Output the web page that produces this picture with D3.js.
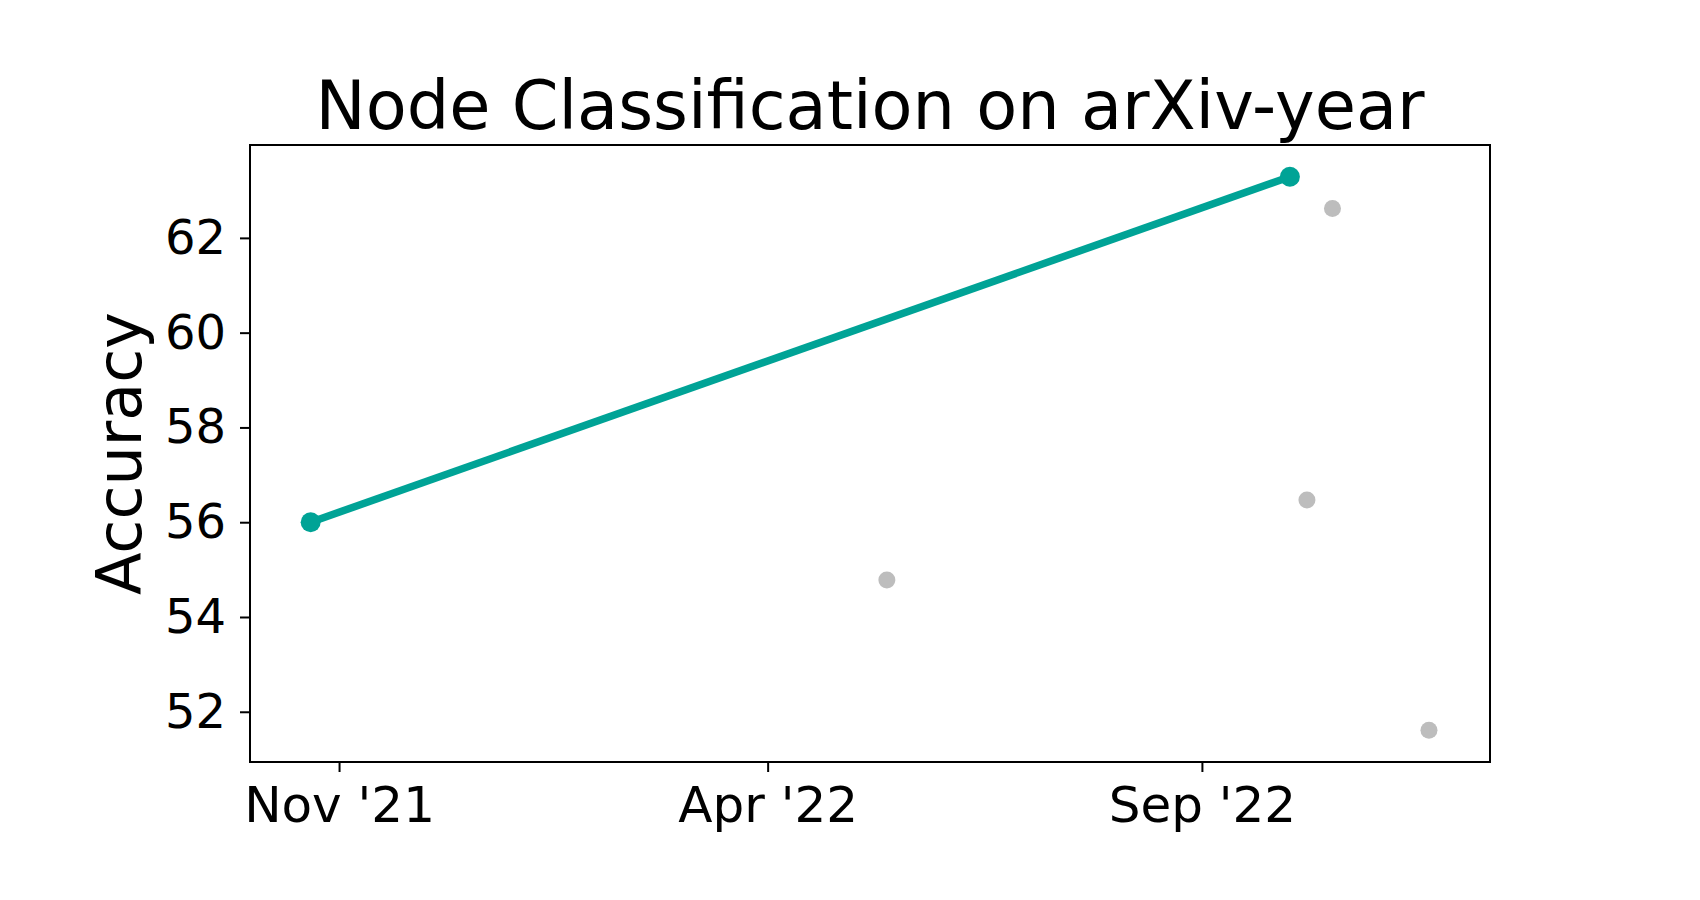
<!DOCTYPE html>
<html>
<head>
<meta charset="utf-8">
<script src="https://cdn.jsdelivr.net/npm/d3@7"></script>
<style>
  html, body { margin: 0; padding: 0; background: #fff; }
  text { font-family: "DejaVu Sans", sans-serif; fill: #000; }
</style>
</head>
<body>
<script>
// ---- data ----
const sotaDates = ["2021-10-22", "2022-10-02"];
const sotaValues = [56.00, 63.29];
const otherDates = ["2022-05-13", "2022-10-08", "2022-10-17", "2022-11-20"];
const otherValues = [54.78, 56.47, 62.62, 51.61];
const xTickDates = ["2021-11-01", "2022-04-01", "2022-09-01"];
const xTickLabels = ["Nov '21", "Apr '22", "Sep '22"];
const yTicks = [52, 54, 56, 58, 60, 62];
const titleText = "Node Classification on arXiv-year";
const yLabelText = "Accuracy";

const W = 1700, H = 900;
const m = { left: 250, right: 1490, top: 145, bottom: 762 };
const parse = d3.utcParse("%Y-%m-%d");

const svg = d3.select("body").append("svg").attr("width", W).attr("height", H);

const x = d3.scaleUtc()
  .domain([d3.isoParse("2021-09-30T15:00:00Z"), d3.isoParse("2022-12-11T12:00:00Z")])
  .range([m.left, m.right]);
const y = d3.scaleLinear()
  .domain([50.94, 63.96])
  .range([m.bottom, m.top]);

// axes
const xAxis = d3.axisBottom(x)
  .tickValues(xTickDates.map(parse))
  .tickFormat((d, i) => xTickLabels[i])
  .tickSize(10).tickPadding(12);
const gx = svg.append("g").attr("transform", `translate(0,${m.bottom})`).call(xAxis);
gx.select(".domain").remove();
gx.selectAll("line").attr("stroke", "#000").attr("stroke-width", 2);
gx.selectAll("text").style("font-size", "50px").attr("fill", "#000").attr("dy", "0.76em");

const yAxis = d3.axisLeft(y).tickValues(yTicks).tickSize(10).tickPadding(14);
const gy = svg.append("g").attr("transform", `translate(${m.left},0)`).call(yAxis);
gy.select(".domain").remove();
gy.selectAll("line").attr("stroke", "#000").attr("stroke-width", 2);
gy.selectAll("text").style("font-size", "48px").attr("fill", "#000");

// other points
svg.append("g").selectAll("circle")
  .data(otherDates.map((d, i) => ({ d: parse(d), v: otherValues[i] })))
  .join("circle")
  .attr("cx", d => x(d.d)).attr("cy", d => y(d.v))
  .attr("r", 8.5).attr("fill", "#bdbdbd");

// SOTA line
const sota = sotaDates.map((d, i) => ({ d: parse(d), v: sotaValues[i] }));
svg.append("path").datum(sota)
  .attr("d", d3.line().x(d => x(d.d)).y(d => y(d.v)))
  .attr("fill", "none").attr("stroke", "#00a396").attr("stroke-width", 7.5);
svg.append("g").selectAll("circle").data(sota).join("circle")
  .attr("cx", d => x(d.d)).attr("cy", d => y(d.v))
  .attr("r", 10).attr("fill", "#00a396");

// frame
svg.append("rect")
  .attr("x", m.left).attr("y", m.top)
  .attr("width", m.right - m.left).attr("height", m.bottom - m.top)
  .attr("fill", "none").attr("stroke", "#000").attr("stroke-width", 2);

// title
svg.append("text")
  .attr("x", (m.left + m.right) / 2).attr("y", 129)
  .attr("text-anchor", "middle")
  .style("font-size", "67px")
  .text(titleText);

// y label
svg.append("text")
  .attr("transform", `translate(141,${(m.top + m.bottom) / 2}) rotate(-90)`)
  .attr("text-anchor", "middle")
  .style("font-size", "62px")
  .text(yLabelText);
</script>
</body>
</html>
